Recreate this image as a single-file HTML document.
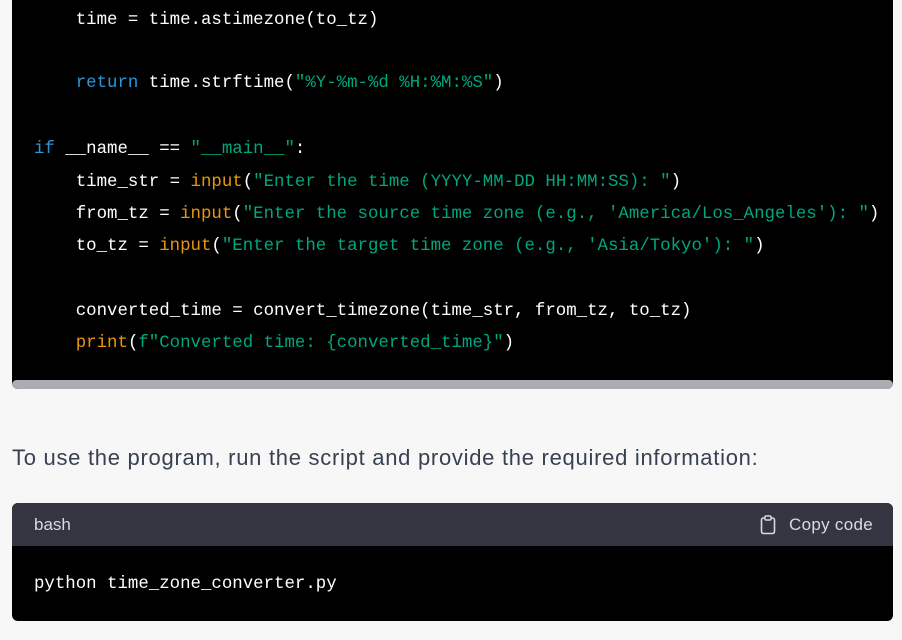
<!DOCTYPE html>
<html><head><meta charset="utf-8"><style>
body{margin:0;width:902px;height:640px;background:#f7f7f8;position:relative;overflow:hidden;font-family:"Liberation Sans",sans-serif}
.code{position:absolute;left:12px;top:-10px;width:881px;height:399px;background:#000;border-radius:0 0 6px 6px;overflow:hidden}
.sb{position:absolute;left:0;right:0;bottom:0;height:9px;background:#acacb3;border-radius:5px}
.l{position:absolute;left:22px;font-family:"Liberation Mono",monospace;font-size:17.4px;color:#fff;white-space:pre;line-height:20px}
.k{color:#2e95d3}.s{color:#00a67d}.b{color:#e9950c}
.p{position:absolute;left:12px;top:445px;font-size:22px;letter-spacing:0.72px;color:#374151;white-space:nowrap}
.bash{position:absolute;left:12px;top:503px;width:881px;height:118px;background:#000;border-radius:6px;overflow:hidden}
.hd{height:43px;background:#343541;color:#d9d9e3;font-size:17px;position:relative}
</style></head><body>
<div class="code">
<div class="l" style="top:21px">    time = time.astimezone(to_tz)</div>
<div class="l" style="top:84px">    <span class="k">return</span> time.strftime(<span class="s">"%Y-%m-%d %H:%M:%S"</span>)</div>
<div class="l" style="top:150px"><span class="k">if</span> __name__ == <span class="s">"__main__"</span>:</div>
<div class="l" style="top:183px">    time_str = <span class="b">input</span>(<span class="s">"Enter the time (YYYY-MM-DD HH:MM:SS): "</span>)</div>
<div class="l" style="top:215px">    from_tz = <span class="b">input</span>(<span class="s">"Enter the source time zone (e.g., 'America/Los_Angeles'): "</span>)</div>
<div class="l" style="top:247px">    to_tz = <span class="b">input</span>(<span class="s">"Enter the target time zone (e.g., 'Asia/Tokyo'): "</span>)</div>
<div class="l" style="top:312px">    converted_time = convert_timezone(time_str, from_tz, to_tz)</div>
<div class="l" style="top:344px">    <span class="b">print</span>(<span class="s">f"Converted time: {converted_time}"</span>)</div>
<div class="sb"></div>
</div>
<div class="p">To use the program, run the script and provide the required information:</div>
<div class="bash">
<div class="hd"><span style="position:absolute;left:22px;top:12px">bash</span>
<svg style="position:absolute;left:748px;top:12px" width="16" height="20" viewBox="0 0 16 20"><rect x="1.5" y="3" width="13" height="15.5" rx="2" fill="none" stroke="#d9d9e3" stroke-width="1.6"/><rect x="5" y="1" width="6" height="4" rx="1" fill="#343541" stroke="#d9d9e3" stroke-width="1.4"/></svg>
<span style="position:absolute;left:777px;top:12px;letter-spacing:0.3px">Copy code</span></div>
<div class="l" style="top:72px;left:22px">python time_zone_converter.py</div>
</div>
</body></html>
